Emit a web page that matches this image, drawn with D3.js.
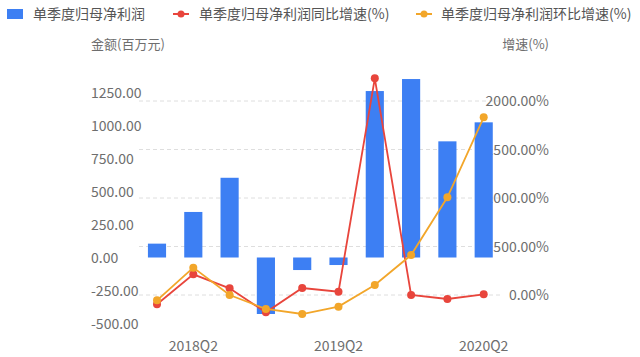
<!DOCTYPE html>
<html>
<head>
<meta charset="utf-8">
<script src="https://cdn.jsdelivr.net/npm/d3@7"></script>
<style>
  html, body { margin: 0; padding: 0; background: #fff; }
  svg { display: block; font-family: "Noto Sans CJK SC", "Noto Sans", sans-serif; }
</style>
</head>
<body>
<svg id="chart" width="640" height="357"></svg>
<script>
const categories = ["2018Q1","2018Q2","2018Q3","2018Q4","2019Q1","2019Q2","2019Q3","2019Q4","2020Q1","2020Q2"];
const xTickLabels = ["2018Q2","2019Q2","2020Q2"];
const profit = [105, 345, 604, -428, -95, -57, 1261, 1352, 880, 1024];
const yoy = [-96, 213, 69, -179, 72, 34, 2234, 0, -41, 7];
const qoq = [-55, 282, 0, -144, -196, -120, 103, 412, 1007, 1832];
const leftTicks = [-500, -250, 0, 250, 500, 750, 1000, 1250];
const rightTicks = [0, 500, 1000, 1500, 2000];
const seriesNames = ["单季度归母净利润", "单季度归母净利润同比增速(%)", "单季度归母净利润环比增速(%)"];
const colors = { bar: "#3d7ff3", yoy: "#e8453c", qoq: "#f2a62a" };

const svg = d3.select("#chart");
const x = d3.scaleBand().domain(categories).range([138.85, 501.85]).paddingInner(0.5).paddingOuter(0.25);
const yL = d3.scaleLinear().domain([-500, 1250]).range([323.5, 92.5]);
const yR = d3.scaleLinear().domain([0, 2000]).range([295, 101]);
const cx = d => x(d) + x.bandwidth() / 2;

// gridlines (right axis)
svg.append("g").selectAll("line").data(rightTicks).join("line")
  .attr("x1", 139).attr("x2", 502)
  .attr("y1", d => yR(d)).attr("y2", d => yR(d))
  .attr("stroke", "#dedede").attr("stroke-width", 1).attr("stroke-dasharray", "4,3");

// left axis labels
const leftAxis = d3.axisLeft(yL).tickValues(leftTicks).tickFormat(d => d.toFixed(2)).tickSize(0);
const gl = svg.append("g").attr("transform", "translate(91,0)").call(leftAxis);
gl.select(".domain").remove();
gl.selectAll("text").attr("text-anchor", "start").attr("x", 0).attr("dy", "0.35em")
  .attr("fill", "#6e6e6e").style("font-size", "14px").style("font-family", "'Noto Sans CJK SC', 'Noto Sans', sans-serif");

// right axis labels
const rightAxis = d3.axisRight(yR).tickValues(rightTicks).tickFormat(d => d.toFixed(2) + "%").tickSize(0);
const gr = svg.append("g").attr("transform", "translate(549,0)").call(rightAxis);
gr.select(".domain").remove();
gr.selectAll("text").attr("text-anchor", "end").attr("x", 0).attr("dy", "0.35em")
  .attr("fill", "#6e6e6e").style("font-size", "14px").style("font-family", "'Noto Sans CJK SC', 'Noto Sans', sans-serif");

// x axis labels
const bottomAxis = d3.axisBottom(x).tickValues(xTickLabels).tickSize(0);
const gx = svg.append("g").attr("transform", "translate(0,339)").call(bottomAxis);
gx.select(".domain").remove();
gx.selectAll("text").attr("y", 0).attr("dy", "0.85em")
  .attr("fill", "#6e6e6e").style("font-size", "14px").style("font-family", "'Noto Sans CJK SC', 'Noto Sans', sans-serif");

// axis titles
svg.append("text").attr("x", 91).attr("y", 49).attr("fill", "#6e6e6e").style("font-size", "13px").text("金额(百万元)");
svg.append("text").attr("x", 549).attr("y", 49).attr("text-anchor", "end").attr("fill", "#6e6e6e").style("font-size", "13px").text("增速(%)");

// bars
svg.append("g").selectAll("rect").data(profit).join("rect")
  .attr("x", (d, i) => x(categories[i]))
  .attr("width", x.bandwidth())
  .attr("y", d => Math.min(yL(d), yL(0)))
  .attr("height", d => Math.abs(yL(d) - yL(0)))
  .attr("fill", colors.bar);

// lines
function drawLine(vals, color, w) {
  const line = d3.line().x((d, i) => cx(categories[i])).y(d => yR(d));
  svg.append("path").datum(vals).attr("d", line).attr("fill", "none").attr("stroke", color).attr("stroke-width", w);
  svg.append("g").selectAll("circle").data(vals).join("circle")
    .attr("cx", (d, i) => cx(categories[i])).attr("cy", d => yR(d)).attr("r", 4).attr("fill", color);
}
drawLine(yoy, colors.yoy, 1.8);
drawLine(qoq, colors.qoq, 1.8);

// legend
const lg = svg.append("g");
lg.append("rect").attr("x", 7).attr("y", 9).attr("width", 16).attr("height", 10).attr("fill", colors.bar);
lg.append("text").attr("x", 33).attr("y", 14).attr("dy", "0.35em").attr("fill", "#555").style("font-size", "14px").text(seriesNames[0]);
[[173, colors.yoy, seriesNames[1], 199], [416, colors.qoq, seriesNames[2], 441]].forEach(([lx, c, t, tx]) => {
  lg.append("line").attr("x1", lx).attr("x2", lx + 16).attr("y1", 14).attr("y2", 14).attr("stroke", c).attr("stroke-width", 2);
  lg.append("circle").attr("cx", lx + 8).attr("cy", 14).attr("r", 3.5).attr("fill", c);
  lg.append("text").attr("x", tx).attr("y", 14).attr("dy", "0.35em").attr("fill", "#555").style("font-size", "14px").text(t);
});
</script>
</body>
</html>
